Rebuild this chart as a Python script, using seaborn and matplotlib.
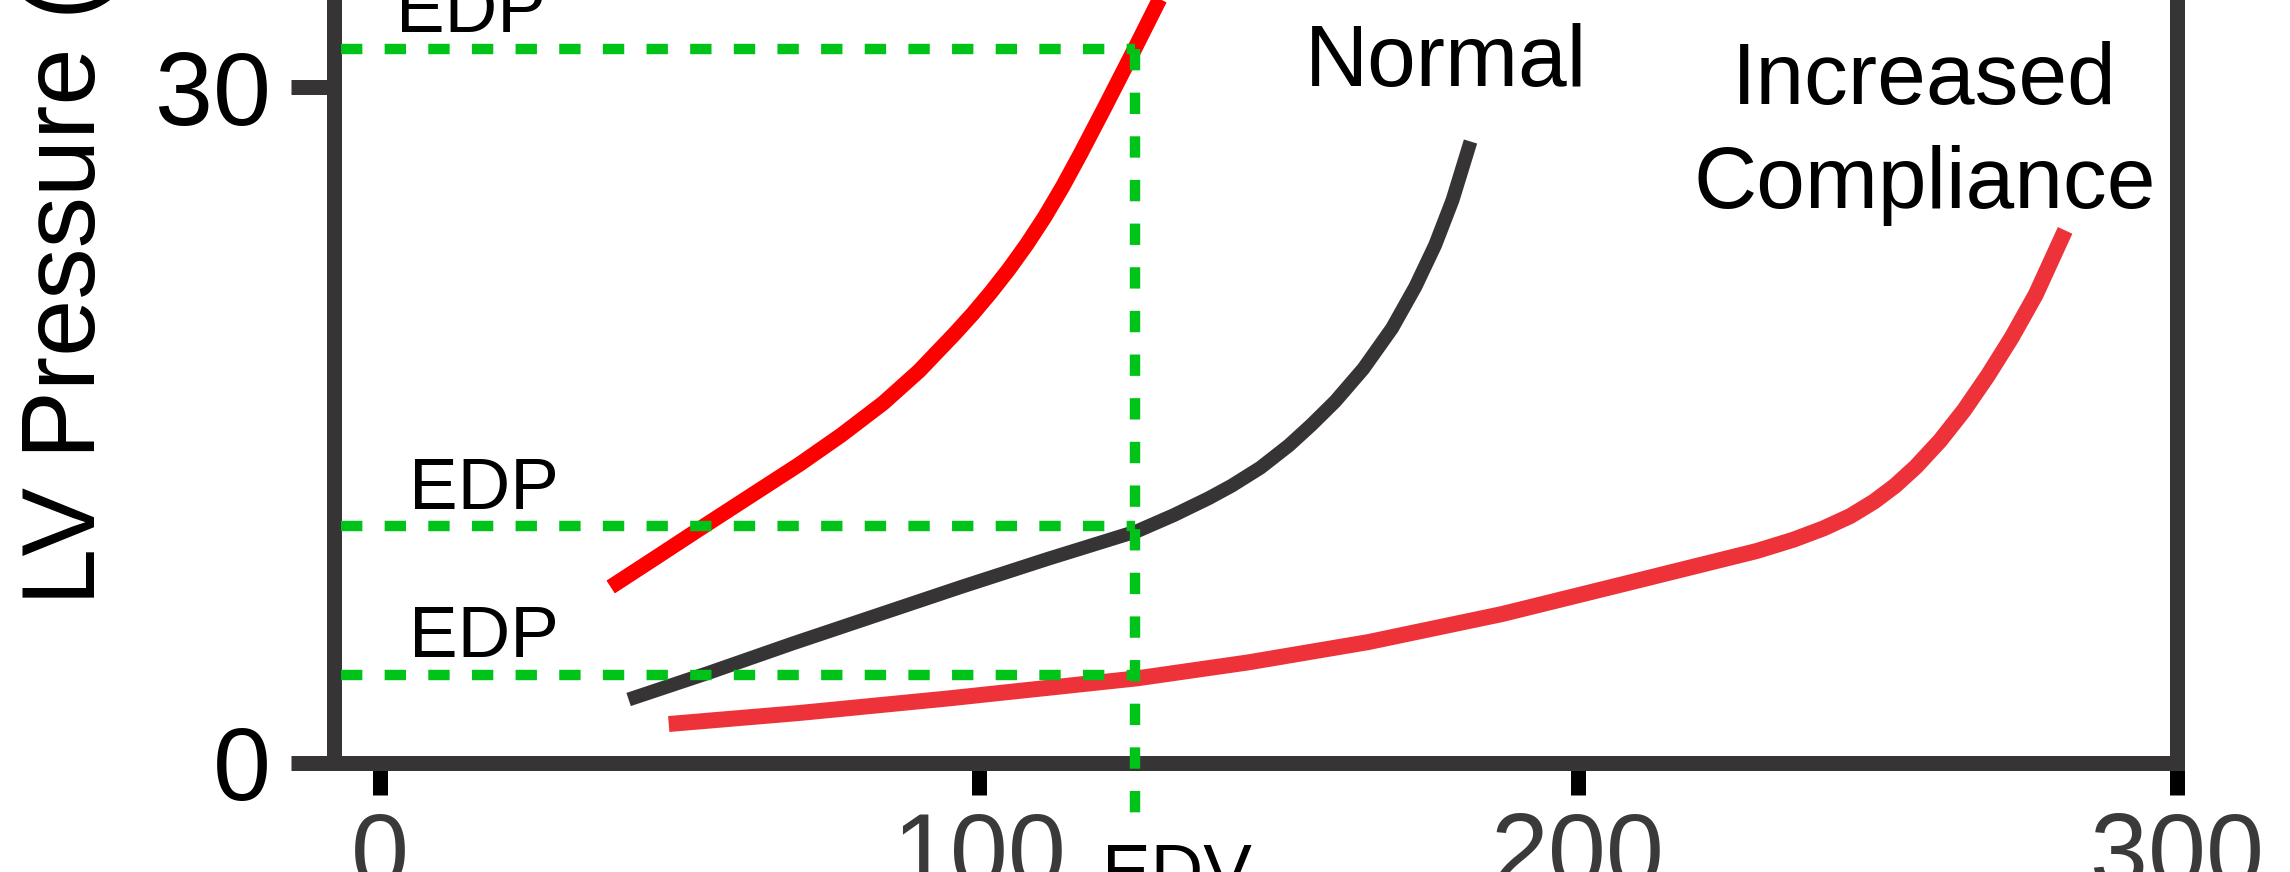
import matplotlib
matplotlib.use("Agg")
import seaborn as sns
from matplotlib import pyplot as plt

# LV end-diastolic pressure-volume curves
dec_vol = [38.5, 46, 53, 61, 70, 77, 84, 90, 96, 99, 102, 105, 108, 111, 114,
           117, 121, 126, 131, 136]
dec_pres = [7.8, 9.1, 10.32, 11.7, 13.25, 14.55, 15.97, 17.4, 19.07, 19.95,
            20.9, 21.92, 23.03, 24.25, 25.6, 27.07, 29.11, 31.71, 34.36, 37.06]

norm_vol = [41.5, 55, 69, 83, 97, 111.5, 126.4, 132.6, 138.4, 142.2, 147, 151.8,
            155.5, 159.5, 164.2, 169, 172.9, 176.2, 179.1, 182.1]
norm_pres = [2.8, 4.0, 5.3, 6.55, 7.8, 9.05, 10.28, 11.0, 11.75, 12.3, 13.1,
             14.1, 15.0, 16.05, 17.5, 19.3, 21.15, 23.0, 25.0, 27.6]

inc_vol = [48.2, 70, 95, 126.4, 145, 165, 187.4, 208.7, 229.9, 236, 241, 245.5,
           249.5, 253, 256.5, 260.5, 264.5, 268.5, 272.5, 276.5, 281.4]
inc_pres = [1.71, 2.2, 2.85, 3.74, 4.45, 5.35, 6.6, 8.0, 9.4, 9.9, 10.4, 10.95,
            11.6, 12.3, 13.15, 14.3, 15.65, 17.2, 18.9, 20.8, 23.65]

edv = 126
edp = [31.7, 10.5, 3.9]
edp_label_x = [2.7, 4.8, 4.8]

x_ticks = [0, 100, 200, 300]
y_ticks = [0, 30, 60]

sns.set_style("ticks")
plt.rcParams['font.family'] = ['Liberation Sans', 'DejaVu Sans']

axis_col = '#373435'
green = '#00c31a'

fig = plt.figure(figsize=(22.9, 8.72), dpi=100)
# axes runs off the top of the picture (the original is a crop)
ax = fig.add_axes([334 / 2290, 109.5 / 872, 1842.5 / 2290, 900 / 872])

line_kw = dict(sort=False, estimator=None, solid_capstyle='butt',
               solid_joinstyle='round', ax=ax)
sns.lineplot(x=dec_vol, y=dec_pres, color='#fe0000', lw=11, **line_kw)
sns.lineplot(x=norm_vol, y=norm_pres, color='#373435', lw=10, **line_kw)
sns.lineplot(x=inc_vol, y=inc_pres, color='#ee323a', lw=11.5, **line_kw)

x_left = -7.7
dash = (0, (2.05, 2.14))
for level, lx in zip(edp, edp_label_x):
    ax.plot([x_left + 1.2, edv], [level, level], color=green, lw=7.5, ls=dash,
            zorder=3)
    ax.text(lx, level + 0.78, "EDP", fontsize=52.5, color='black',
            ha='left', va='baseline')
ax.plot([edv, edv], [edp[0], -2.47], color=green, lw=7.5, ls=dash, zorder=3,
        clip_on=False)
ax.text(120.6, -5.9, "EDV", fontsize=52.5, color='black', ha='left',
        va='baseline')

ax.text(178, 30.07, "Normal", fontsize=63, color='black', ha='center',
        va='baseline')
ax.text(257.9, 29.27, "Increased", fontsize=63, color='black', ha='center',
        va='baseline')
ax.text(257.9, 24.64, "Compliance", fontsize=63, color='black', ha='center',
        va='baseline')

ax.set_xticks(x_ticks)
ax.set_yticks(y_ticks)
ax.set_xlim(x_left, 300)
ax.set_ylim(0, 40)
ax.tick_params(axis='x', length=23, width=10.8, color='black', pad=12,
               labelsize=75, labelcolor='#3a3a3a')
ax.tick_params(axis='y', length=31, width=10.8, color=axis_col, pad=14.5,
               labelsize=75, labelcolor='black')

ax.spines['top'].set_visible(False)
for side in ['left', 'bottom', 'right']:
    ax.spines[side].set_visible(True)
    ax.spines[side].set_linewidth(10.8)
    ax.spines[side].set_color(axis_col)

ax.set_xlabel("")
ax.set_ylabel("LV Pressure (mmHg)", fontsize=74, color='black', ha='left',
              va='baseline')
ax.yaxis.set_label_coords(95 / 2290, 1 - 605 / 872, transform=fig.transFigure)

fig.savefig("out.png", dpi=100)
